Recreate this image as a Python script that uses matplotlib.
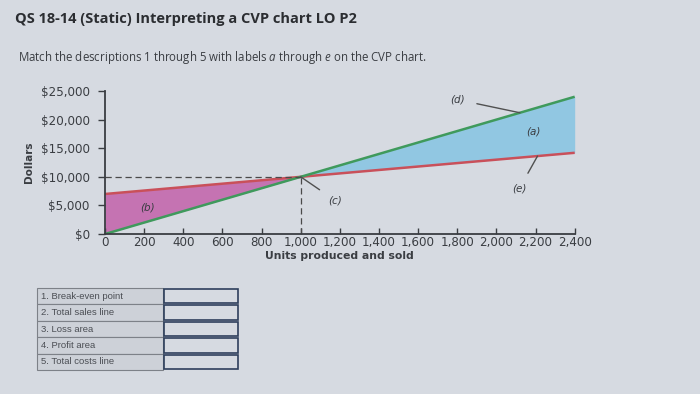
import numpy as np
import matplotlib
matplotlib.use("Agg")
import matplotlib.pyplot as plt
from matplotlib.patches import Rectangle

# --- Data ---
units = [0, 1000, 2400]
sales = [0, 10000, 24000]          # total sales line
costs = [7000, 10000, 14200]       # total costs line
breakeven_units = 1000
breakeven_dollars = 10000

x_ticks = [0, 200, 400, 600, 800, 1000, 1200, 1400, 1600, 1800, 2000, 2200, 2400]
y_ticks = [0, 5000, 10000, 15000, 20000, 25000]
y_tick_labels = ["$0", "$5,000", "$10,000", "$15,000", "$20,000", "$25,000"]
table_rows = ["1. Break-even point", "2. Total sales line", "3. Loss area",
              "4. Profit area", "5. Total costs line"]

bg = "#d6dae1"
ink = "#3a3d42"
plt.rcParams['font.family'] = ['Open Sans', 'DejaVu Sans']
plt.rcParams['mathtext.fontset'] = 'custom'
plt.rcParams['mathtext.it'] = 'Open Sans:italic'
plt.rcParams['mathtext.rm'] = 'Open Sans'
chart_font = ['DejaVu Sans']

fig = plt.figure(figsize=(7, 3.94), dpi=100)
fig.patch.set_facecolor(bg)

# --- Header text ---
fig.text(0.021, 0.953, "QS 18-14 (Static) Interpreting a CVP chart LO P2",
         fontsize=10.5, fontweight='bold', color="#2b2d31", va='center')
fig.text(0.026, 0.855,
         "Match the descriptions 1 through 5 with labels $\\it{a}$ through $\\it{e}$ on the CVP chart.",
         fontsize=8.3, color=ink, va='center')

# --- CVP chart ---
ax = fig.add_axes([0.150, 0.406, 0.671, 0.363])
ax.set_facecolor(bg)
x = np.array(units, dtype=float)
s = np.array(sales, dtype=float)
c = np.array(costs, dtype=float)

ax.fill_between(x, s, c, where=(x <= breakeven_units), interpolate=True,
                color="#c468ad", alpha=0.9, linewidth=0)
ax.fill_between(x, s, c, where=(x >= breakeven_units), interpolate=True,
                color="#8ec6e3", alpha=0.95, linewidth=0)
ax.plot(x, c, color="#c9505a", lw=1.8, solid_capstyle='butt')
ax.plot(x, s, color="#3f9a5c", lw=1.8, solid_capstyle='butt')

ax.plot([0, breakeven_units], [breakeven_dollars, breakeven_dollars],
        ls=(0, (5, 3)), color="#4a4a4a", lw=0.9)
ax.plot([breakeven_units, breakeven_units], [0, breakeven_dollars],
        ls=(0, (5, 3)), color="#4a4a4a", lw=0.9)

ax.set_xlim(0, 2400)
ax.set_ylim(0, 25000)
ax.set_xticks(x_ticks)
ax.set_xticklabels([f"{v:,}" for v in x_ticks], fontsize=8.6, color=ink, family=chart_font)
ax.set_yticks(y_ticks)
ax.set_yticklabels(y_tick_labels, fontsize=8.6, color=ink, family=chart_font)
ax.tick_params(axis='x', direction='in', length=4, width=1, color=ink, pad=1.5)
ax.tick_params(axis='y', direction='out', length=5, width=1, color=ink, pad=6)
for side in ['top', 'right']:
    ax.spines[side].set_visible(False)
for side in ['left', 'bottom']:
    ax.spines[side].set_color(ink)
    ax.spines[side].set_linewidth(1.3)
ax.set_xlabel("Units produced and sold", fontsize=7.8, fontweight='bold', color=ink,
              labelpad=1, family=chart_font)
ax.set_ylabel("Dollars", fontsize=7.5, fontweight='bold', color=ink, labelpad=5,
              family=chart_font)

# --- Labels a through e ---
lab = dict(fontsize=7.5, style='italic', color=ink, ha='center', va='center',
           family=chart_font)
ax.text(2190, 17900, "(a)", **lab)
ax.text(216, 4700, "(b)", **lab)
ax.annotate("(c)", xy=(1000, 10000), xytext=(1175, 5900),
            arrowprops=dict(arrowstyle='-', color="#505050", lw=1, shrinkB=0, shrinkA=5), **lab)
ax.annotate("(d)", xy=(2120, 21200), xytext=(1800, 23500),
            arrowprops=dict(arrowstyle='-', color="#505050", lw=1, shrinkB=0, shrinkA=7), **lab)
ax.annotate("(e)", xy=(2210, 13630), xytext=(2118, 8000),
            arrowprops=dict(arrowstyle='-', color="#505050", lw=1, shrinkB=0, shrinkA=6), **lab)

# --- Matching table ---
tax = fig.add_axes([0, 0, 1, 1])
tax.set_xlim(0, 700)
tax.set_ylim(394, 0)
tax.axis('off')
row_h = 16.4
top = 288
for i, name in enumerate(table_rows):
    y0 = top + i * row_h
    tax.add_patch(Rectangle((37, y0), 126, row_h, facecolor="#cdd1d8",
                            edgecolor="#7d8188", lw=0.8))
    tax.add_patch(Rectangle((164, y0 + 1), 74, row_h - 2, facecolor="none",
                            edgecolor="#2e3f5c", lw=1.2))
    tax.text(41, y0 + row_h / 2, name, fontsize=6.8, color="#4b4e54",
             va='center', family=['Liberation Sans', 'DejaVu Sans'])

fig.savefig("out.png", dpi=100, facecolor=bg)
